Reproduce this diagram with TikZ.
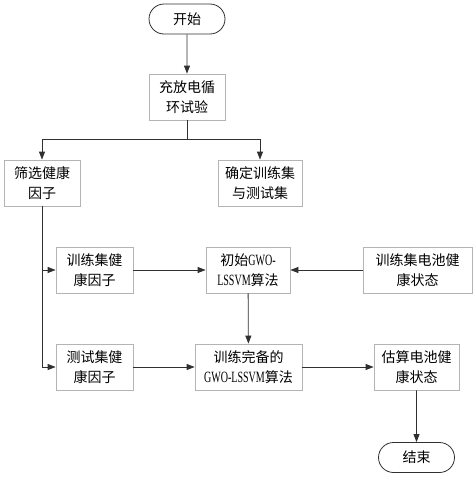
\documentclass[tikz,border=0pt]{standalone}
\usepackage{fontspec}
\newfontfamily\cjk{Noto Sans CJK SC}
\newfontfamily\lat[FakeStretch=0.64,Scale=1.12]{Liberation Serif}
\usetikzlibrary{shapes.misc,arrows.meta}
\definecolor{boxgray}{HTML}{B4B4B4}
\definecolor{linegray}{HTML}{303030}

\tikzset{
  box/.style={draw=boxgray, line width=0.8pt, align=center, inner sep=0pt,
    minimum height=46pt, font=\cjk\fontsize{14}{20}\selectfont},
  term/.style={rounded rectangle, draw=linegray, line width=0.8pt, inner sep=0pt,
    minimum height=30pt, minimum width=76pt, font=\cjk\fontsize{14}{20}\selectfont},
  line/.style={draw=linegray, line width=0.8pt},
  flow/.style={line, -{Triangle[length=8pt,width=6pt]}}
}

\begin{document}
\begin{tikzpicture}[x=1pt, y=-1pt]
   \useasboundingbox (0,0) rectangle (474,477);
   % start and test
   \node[term] (start) at (187,19) {开始};
   \node[box, minimum width=76pt] (cycle) at (187,97) {充放电循\\环试验};
   % second row
   \node[box, minimum width=76pt] (select) at (42,183) {筛选健康\\因子};
   \node[box, minimum width=84pt] (split) at (260,183) {确定训练集\\与测试集};
   % training row
   \node[box, minimum width=77pt] (trainhf) at (94.5,270) {训练集健\\康因子};
   \node[box, minimum width=84pt] (init) at (248,270) {初始{\lat GWO-}\\{\lat LSSVM}算法};
   \node[box, minimum width=109pt] (trainsoh) at (417.5,270) {训练集电池健\\康状态};
   % testing row
   \node[box, minimum width=77pt] (testhf) at (94.5,367) {测试集健\\康因子};
   \node[box, minimum width=107pt] (trained) at (248.5,367) {训练完备的\\{\lat GWO-LSSVM}算法};
   \node[box, minimum width=85pt] (estimate) at (416.5,367) {估算电池健\\康状态};
   \node[term] (end) at (416.5,457.5) {结束};

   \draw[flow] (start) -- (cycle);
   \draw[line] (cycle.south) -- ++(0,19) coordinate (fork);
   \draw[flow] (fork) -| (select.north);
   \draw[flow] (fork) -| (split.north);
   \draw[flow] (select.south) |- (testhf.west);
   \draw[flow] (select.south |- trainhf.west) -- (trainhf.west);
   \draw[flow] (trainhf) -- (init);
   \draw[flow] (trainsoh) -- (init);
   \draw[flow] (init) -- (trained);
   \draw[flow] (testhf) -- (trained);
   \draw[flow] (trained) -- (estimate);
   \draw[flow] (estimate) -- (end);
\end{tikzpicture}
\end{document}
